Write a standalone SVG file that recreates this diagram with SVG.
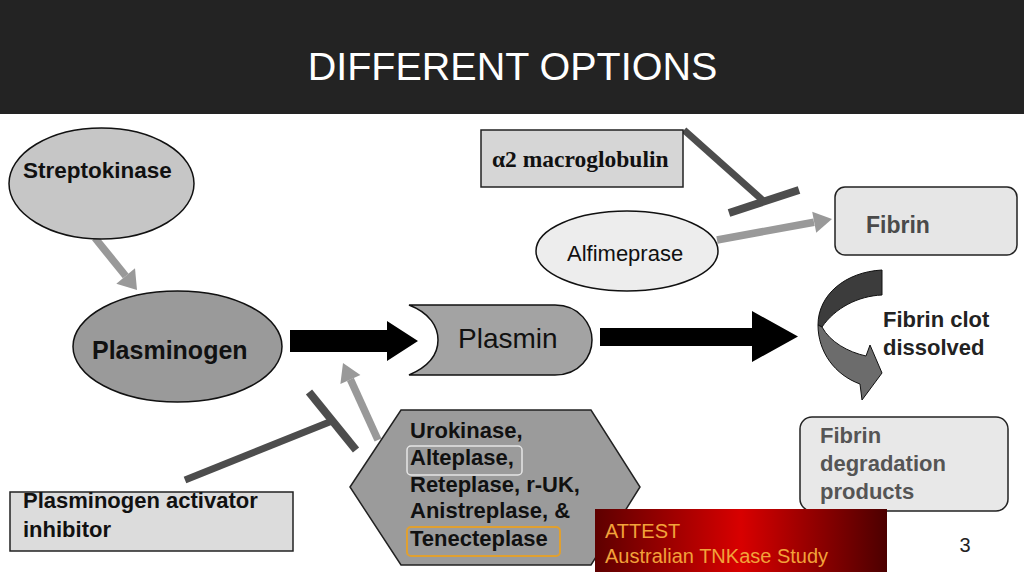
<svg xmlns="http://www.w3.org/2000/svg" width="1024" height="576" viewBox="0 0 1024 576">
<defs>
<style>
.b{font-family:"Liberation Sans",Arial,sans-serif;font-weight:bold;font-size:22px;fill:#111}
.r{font-family:"Liberation Sans",Arial,sans-serif;font-size:22px;fill:#111}
.gl{fill:none;stroke:#999;stroke-width:7.5}
.inh{fill:none;stroke:#4d4d4d;stroke-width:7}
.blk{fill:#000}
</style>
<linearGradient id="red" x1="0" y1="0" x2="1" y2="0">
<stop offset="0" stop-color="#5e0000"/>
<stop offset="0.5" stop-color="#d80000"/>
<stop offset="1" stop-color="#4c0000"/>
</linearGradient>
</defs>
<rect x="0" y="0" width="1024" height="576" fill="#fff"/>
<rect x="0" y="0" width="1024" height="114" fill="#232323"/>
<text x="512.5" y="80" text-anchor="middle" font-family="Liberation Sans, Arial, sans-serif" font-size="39.5" fill="#fff">DIFFERENT OPTIONS</text>

<g id="connectors">
<line class="gl" x1="95" y1="238" x2="125.7" y2="276"/>
<polygon points="116.3,283.8 137,290 135,268.2" fill="#999"/>
<line class="gl" x1="717" y1="240" x2="814" y2="222.2"/>
<polygon points="812.2,211.7 832,219 816.2,232.7" fill="#999"/>
<line class="gl" x1="378" y1="440" x2="350.4" y2="379.4"/>
<polygon points="340.4,383.9 343,363 360.4,374.9" fill="#999"/>
<line class="inh" x1="684" y1="130" x2="764" y2="201.5"/>
<line class="inh" x1="729" y1="213" x2="799" y2="190" style="stroke-width:8"/>
<line class="inh" x1="185" y1="480" x2="332" y2="421"/>
<line class="inh" x1="309" y1="392" x2="356" y2="450" style="stroke-width:8"/>
<polygon class="blk" points="290,330 387,330 387,321 418,341 387,361 387,352 290,352"/>
<polygon class="blk" points="600,328 752,328 752,311 798,336.5 752,362 752,346 600,346"/>
</g>

<g id="streptokinase">
<ellipse cx="101.5" cy="183.5" rx="92.5" ry="55.5" fill="#c6c6c6" stroke="#111" stroke-width="1.5"/>
<text class="b" x="23" y="178" style="font-size:22.5px">Streptokinase</text>
</g>

<g id="plasminogen">
<ellipse cx="177.5" cy="346.5" rx="104.5" ry="55.5" fill="#9a9a9a" stroke="#111" stroke-width="1.5"/>
<text class="b" x="92" y="359" style="font-size:25px">Plasminogen</text>
</g>

<g id="plasmin">
<path d="M409,305 L555,305 C580,305 592,325 592,340 C592,356 580,375 555,375 L409,375 C430,366 438,353 438,340 C438,327 430,313 409,305 Z" fill="#a3a3a3" stroke="#111" stroke-width="1.5"/>
<text class="r" x="458" y="348" style="font-size:28px">Plasmin</text>
</g>

<g id="a2macroglobulin">
<rect x="481" y="130" width="202" height="57" fill="#d6d6d6" stroke="#222" stroke-width="1.5"/>
<text x="492" y="167" font-family="Liberation Serif, Times New Roman, serif" font-weight="bold" font-size="23.5" fill="#111">α2 macroglobulin</text>
</g>

<g id="alfimeprase">
<ellipse cx="627" cy="251" rx="91" ry="40" fill="#ededed" stroke="#111" stroke-width="1.5"/>
<text class="r" x="567" y="261">Alfimeprase</text>
</g>

<g id="fibrin">
<rect x="835" y="187" width="182" height="68" rx="10" fill="#e6e6e6" stroke="#222" stroke-width="1.5"/>
<text class="b" x="866" y="233" style="fill:#4a4a4a;font-size:23px">Fibrin</text>
</g>

<g id="clot-dissolved">
<path d="M882,270 C845,272 818,295 818,325 L822,327 C835,308 858,296 882,295 Z" fill="#3c3c3c" stroke="#111" stroke-width="1"/>
<path d="M818,325 C818,352 835,375 860,384 L862,400 L882,373 L870,345 L866,356 C848,352 830,342 822,327 Z" fill="#6c6c6c" stroke="#111" stroke-width="1"/>
<text class="b" x="883" y="327" style="fill:#222">Fibrin clot</text>
<text class="b" x="883" y="355" style="fill:#222">dissolved</text>
</g>

<g id="degradation">
<rect x="800" y="417" width="208" height="94" rx="12" fill="#e8e8e8" stroke="#222" stroke-width="1.5"/>
<text class="b" x="820" y="443" style="fill:#555">Fibrin</text>
<text class="b" x="820" y="471" style="fill:#555">degradation</text>
<text class="b" x="820" y="499" style="fill:#555">products</text>
</g>

<g id="activators">
<polygon points="350,487 401,410 591,410 640,487 591,565 401,565" fill="#9b9b9b" stroke="#222" stroke-width="1.5"/>
<rect x="407" y="446" width="115" height="29" rx="4" fill="none" stroke="#e6e6e6" stroke-width="1.5"/>
<rect x="407" y="527" width="153" height="29" rx="4" fill="none" stroke="#e0a030" stroke-width="2"/>
<text class="b" x="410" y="438">Urokinase,</text>
<text class="b" x="410" y="465">Alteplase,</text>
<text class="b" x="410" y="492">Reteplase, r-UK,</text>
<text class="b" x="410" y="518">Anistreplase, &amp;</text>
<text class="b" x="410" y="546">Tenecteplase</text>
</g>

<g id="pai">
<rect x="10" y="492" width="283" height="59" fill="#dcdcdc" stroke="#222" stroke-width="1.5"/>
<text class="b" x="23" y="508">Plasminogen activator</text>
<text class="b" x="23" y="537">inhibitor</text>
</g>

<g id="attest">
<rect x="595" y="509" width="292" height="63" fill="url(#red)"/>
<text x="605" y="538" font-family="Liberation Sans, Arial, sans-serif" font-size="20" fill="#f2a23a">ATTEST</text>
<text x="605" y="563" font-family="Liberation Sans, Arial, sans-serif" font-size="20" fill="#f2a23a">Australian TNKase Study</text>
</g>

<text x="965" y="552" text-anchor="middle" font-family="Liberation Sans, Arial, sans-serif" font-size="20" fill="#222">3</text>
</svg>
